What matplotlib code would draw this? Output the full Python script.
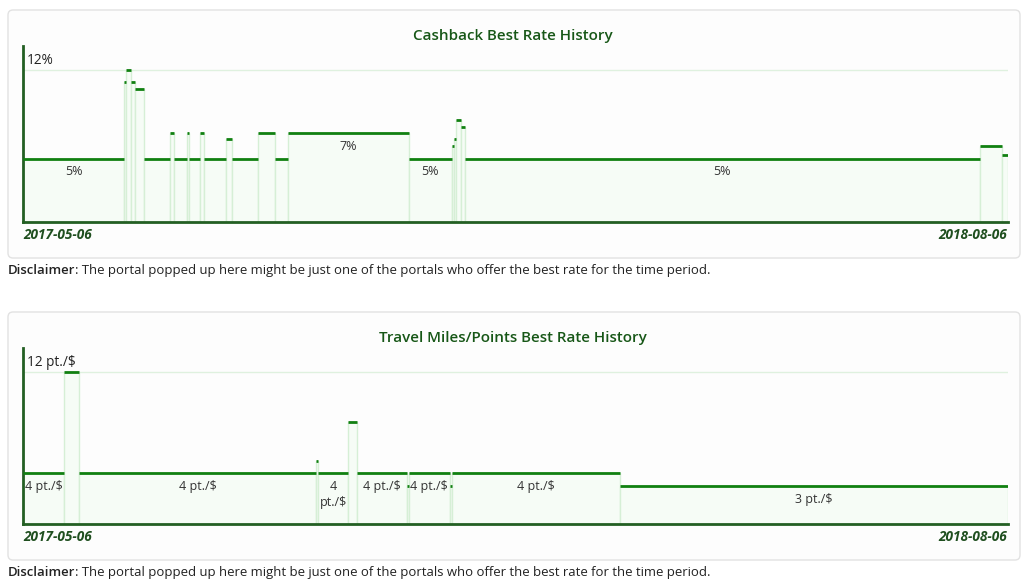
import matplotlib
matplotlib.use("Agg")
import matplotlib.pyplot as plt
import matplotlib.dates as mdates
from matplotlib.patches import FancyBboxPatch
import numpy as np

plt.rcParams['font.family'] = ['Open Sans', 'DejaVu Sans']

# date range shown on both charts
start_date = "2017-05-06"
end_date = "2018-08-06"

# cashback best rate: length of each period (days) and its rate (%)
cash_days = [47, 1, 2, 2, 4, 12, 2, 6, 1, 5, 2, 10, 3, 12, 8, 6, 56, 20, 1, 1, 2, 2, 239, 10, 3]
cash_rates = [5, 11, 12, 11, 10.5, 5, 7, 5, 7, 5, 7, 5, 6.5, 5, 7, 5, 7, 5, 6, 6.5, 8, 7.5, 5, 6, 5.25]

# travel miles/points best rate: days and pt./$
miles_days = [19, 7, 110, 1, 14, 4, 23, 1, 19, 1, 78, 180]
miles_rates = [4, 12, 4, 5, 4, 8, 4, 3, 4, 3, 4, 3]

titles = ["Cashback Best Rate History", "Travel Miles/Points Best Rate History"]
disclaimer = "The portal popped up here might be just one of the portals who offer the best rate for the time period."

W, H = 1024, 586
fill_col = "#f6fcf6"
edge_col = "#d6efd6"
line_col = "#118011"
axis_col = "#235f23"
title_col = "#175717"

fig = plt.figure(figsize=(W / 100, H / 100), dpi=100)
fig.patch.set_facecolor("white")

# background layer in pixel coordinates (cards, titles, disclaimers)
bg = fig.add_axes([0, 0, 1, 1], zorder=-1)
bg.set_xlim(0, W)
bg.set_ylim(H, 0)
bg.axis("off")


def px_axes(left, top, right, bottom):
    return fig.add_axes([left / W, (H - bottom) / H, (right - left) / W, (bottom - top) / H])


def draw_chart(card_top, days, rates, unit_fmt, ymax_label):
    # card
    card = FancyBboxPatch((8, card_top), 1012, 248, boxstyle="round,pad=0,rounding_size=5",
                          facecolor="#fdfdfd", edgecolor="#e2e2e2", linewidth=1)
    bg.add_patch(card)

    ax = px_axes(23, card_top + 36, 1008, card_top + 212)
    ax.patch.set_alpha(0)

    t0 = mdates.datestr2num(start_date)
    starts = t0 + np.concatenate([[0], np.cumsum(days)[:-1]])
    ends = starts + np.array(days)

    ax.bar(starts, rates, width=days, align="edge", color=fill_col,
           edgecolor=edge_col, linewidth=1, zorder=2)
    ax.hlines(rates, starts, ends, color=line_col, linewidth=2, zorder=3)
    ax.axhline(12, color="#dff1df", linewidth=1, zorder=1)

    for s, d, r in zip(starts, days, rates):
        if d < 14:
            continue
        lab = unit_fmt(r)
        if d < 18 and " " in lab:
            lab = lab.replace(" ", "\n", 1)
        ax.annotate(lab, xy=(s + d / 2, r), xytext=(0, -5), textcoords="offset points",
                    ha="center", va="top", fontsize=9, color="#333333",
                    linespacing=1.25, zorder=4)

    ax.set_xlim(t0, mdates.datestr2num(end_date))
    ax.set_ylim(0, 13.86)
    ax.set_xticks([])
    ax.set_yticks([])
    for side in ["top", "right"]:
        ax.spines[side].set_visible(False)
    for side in ["left", "bottom"]:
        ax.spines[side].set_color(axis_col)
        ax.spines[side].set_linewidth(2)

    ax.text(0.004, 12.72, ymax_label, transform=ax.get_yaxis_transform(),
            ha="left", va="center", fontsize=9.8, color="#222222")
    return ax


for i, (days, rates, fmt, ylab) in enumerate([
        (cash_days, cash_rates, lambda r: f"{r:g}%", "12%"),
        (miles_days, miles_rates, lambda r: f"{r:g} pt./$", "12 pt./$")]):
    top = 10 + i * 302
    draw_chart(top, days, rates, fmt, ylab)
    bg.text(513, top + 26, titles[i], ha="center", va="center", fontsize=10.9,
            fontweight="semibold", color=title_col)
    bg.text(23, top + 225, start_date, ha="left", va="center", fontsize=9.8,
            fontweight="bold", style="italic", color="#1f4f1f")
    bg.text(1007, top + 225, end_date, ha="right", va="center", fontsize=9.8,
            fontweight="bold", style="italic", color="#1f4f1f")
    t1 = bg.text(8, top + 267, "Disclaimer", ha="left", va="bottom", fontsize=9.45,
                 fontweight="semibold", color="#222222")
    bg.annotate(": " + disclaimer, xy=(1, 0), xycoords=t1, ha="left", va="bottom",
                fontsize=9.45, color="#222222")

fig.savefig("out.png", dpi=100)
